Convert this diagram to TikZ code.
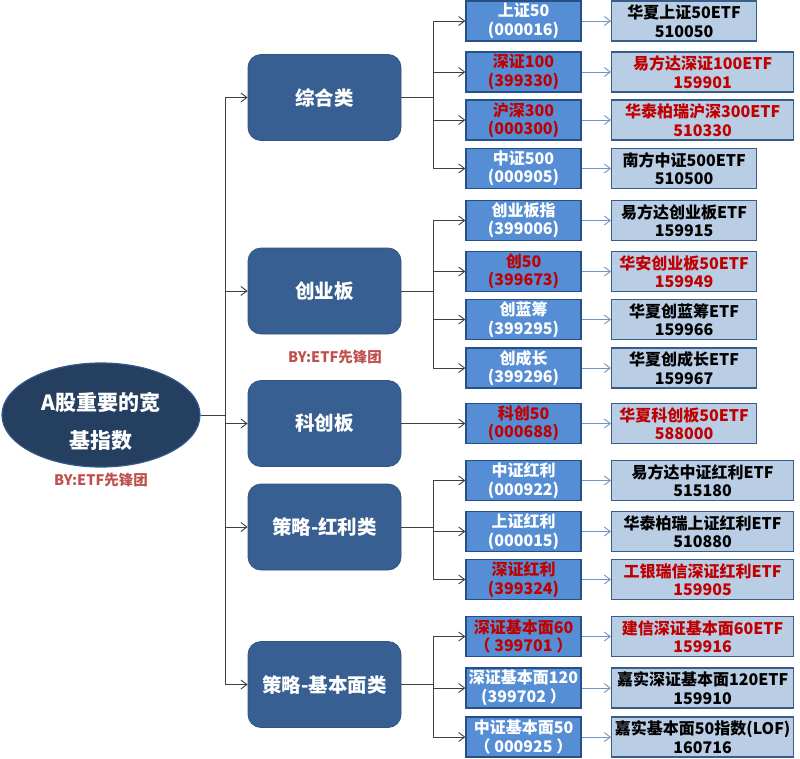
\documentclass[tikz,border=0pt]{standalone}
\usepackage{fontspec}
\setmainfont{Noto Sans CJK SC}
\usetikzlibrary{arrows.meta,shapes.geometric}
\definecolor{rootfill}{HTML}{243F60}
\definecolor{rootdraw}{HTML}{33598A}
\definecolor{catfill}{HTML}{375F91}
\definecolor{catdraw}{HTML}{2F5583}
\definecolor{idxfill}{HTML}{558ED5}
\definecolor{idxdraw}{HTML}{264F86}
\definecolor{etffill}{HTML}{B9CDE5}
\definecolor{etfdraw}{HTML}{385D8A}
\definecolor{hot}{HTML}{C00000}
\definecolor{bylabel}{HTML}{C0504D}
\definecolor{linegray}{HTML}{404040}
\definecolor{lineblue}{HTML}{6F95C8}
\tikzset{
  rootnode/.style={ellipse, fill=rootfill, draw=rootdraw, line width=1.2pt, minimum width=198pt, minimum height=104pt, inner sep=0pt},
  roottext/.style={text=white, font=\bfseries\fontsize{21}{38}\selectfont, align=center, inner sep=0pt},
  catnode/.style={rectangle, rounded corners=13pt, fill=catfill, draw=catdraw, line width=0.8pt, minimum width=153pt, minimum height=86pt, inner sep=0pt, text=white, font=\bfseries\fontsize{19.5}{22}\selectfont},
  idxnode/.style={rectangle, fill=idxfill, draw=idxdraw, line width=1.3pt, minimum width=115pt, minimum height=40pt, inner sep=0pt, text=white, font=\bfseries\fontsize{16}{18.5}\selectfont, align=center},
  etfnode/.style={rectangle, fill=etffill, draw=etfdraw, line width=1.3pt, minimum width=145pt, minimum height=40pt, inner sep=0pt, text=black, font=\bfseries\fontsize{16}{18.5}\selectfont, align=center, anchor=west},
  wide/.style={minimum width=182pt},
  hotidx/.style={text=hot},
  bytext/.style={text=bylabel, font=\bfseries\fontsize{14.5}{16}\selectfont, inner sep=0pt},
  conn/.style={draw=linegray, line width=0.9pt, -{Straight Barb[length=6pt,width=9pt]}},
  bconn/.style={draw=lineblue, line width=0.9pt, -{Straight Barb[length=6pt,width=9pt]}},
}
\begin{document}
\begin{tikzpicture}[x=1pt,y=-1pt]
\useasboundingbox (0,0) rectangle (800,758);
\fill[white] (0,0) rectangle (800,758);
% root
\node[rootnode] (root) at (101,415) {};
\node[roottext] (rootlabel) at (101,421) {A股重要的宽\\基指数};
\node[bytext] (by1) at (101,480) {BY:ETF先锋团};
% categories
\node[catnode] (c1) at (324.5,97.5) {综合类};
\node[catnode] (c2) at (324.5,291) {创业板};
\node[catnode] (c3) at (324.5,423.5) {科创板};
\node[catnode] (c4) at (324.5,527) {策略-红利类};
\node[catnode] (c5) at (324.5,684.5) {策略-基本面类};
\node[bytext] (by2) at (335,357) {BY:ETF先锋团};
% index boxes
\node[idxnode] (i1) at (523.5,21) {上证50\\(000016)};
\node[idxnode,hotidx] (i2) at (523.5,72) {深证100\\(399330)};
\node[idxnode,hotidx] (i3) at (523.5,120) {沪深300\\(000300)};
\node[idxnode] (i4) at (523.5,168.5) {中证500\\(000905)};
\node[idxnode] (i5) at (523.5,220.5) {创业板指\\(399006)};
\node[idxnode,hotidx] (i6) at (523.5,271.5) {创50\\(399673)};
\node[idxnode] (i7) at (523.5,319.5) {创蓝筹\\(399295)};
\node[idxnode] (i8) at (523.5,368) {创成长\\(399296)};
\node[idxnode,hotidx] (i9) at (523.5,423.5) {科创50\\(000688)};
\node[idxnode] (i10) at (523.5,480.5) {中证红利\\(000922)};
\node[idxnode] (i11) at (523.5,531.5) {上证红利\\(000015)};
\node[idxnode,hotidx] (i12) at (523.5,579.5) {深证红利\\(399324)};
\node[idxnode,hotidx] (i13) at (523.5,636.5) {深证基本面60\\（ 399701 ）};
\node[idxnode] (i14) at (523.5,688) {深证基本面120\\(399702 ）};
\node[idxnode] (i15) at (523.5,737) {中证基本面50\\（ 000925 ）};
% ETF boxes
\node[etfnode] (e1) at (611,21) {华夏上证50ETF\\510050};
\node[etfnode,wide,text=hot] (e2) at (611,72) {易方达深证100ETF\\159901};
\node[etfnode,wide,text=hot] (e3) at (611,120) {华泰柏瑞沪深300ETF\\510330};
\node[etfnode] (e4) at (611,168.5) {南方中证500ETF\\510500};
\node[etfnode] (e5) at (611,220.5) {易方达创业板ETF\\159915};
\node[etfnode,text=hot] (e6) at (611,271.5) {华安创业板50ETF\\159949};
\node[etfnode] (e7) at (611,319.5) {华夏创蓝筹ETF\\159966};
\node[etfnode] (e8) at (611,368) {华夏创成长ETF\\159967};
\node[etfnode,text=hot] (e9) at (611,423.5) {华夏科创板50ETF\\588000};
\node[etfnode,wide] (e10) at (611,480.5) {易方达中证红利ETF\\515180};
\node[etfnode,wide] (e11) at (611,531.5) {华泰柏瑞上证红利ETF\\510880};
\node[etfnode,wide,text=hot] (e12) at (611,579.5) {工银瑞信深证红利ETF\\159905};
\node[etfnode,wide,text=hot] (e13) at (611,636.5) {建信深证基本面60ETF\\159916};
\node[etfnode,wide] (e14) at (611,688) {嘉实深证基本面120ETF\\159910};
\node[etfnode,wide] (e15) at (611,737) {嘉实基本面50指数(LOF)\\160716};
% trunk
\coordinate (trunk) at (225,415);
\foreach \c in {c1,c2,c3,c4,c5}{
  \draw[conn] (root.east) -- (trunk) |- (\c.west);
}
% category to index
\foreach \c/\i in {c1/i1,c1/i2,c1/i3,c1/i4,c2/i5,c2/i6,c2/i7,c2/i8,c4/i10,c4/i11,c4/i12,c5/i13,c5/i14,c5/i15}{
  \draw[conn] (\c.east) -- ++(32,0) |- (\i.west);
}
\draw[conn] (c3.east) -- (i9.west);
% index to ETF
\foreach \n in {1,...,15}{
  \draw[bconn] (i\n.east) -- (e\n.west);
}
\end{tikzpicture}
\end{document}
